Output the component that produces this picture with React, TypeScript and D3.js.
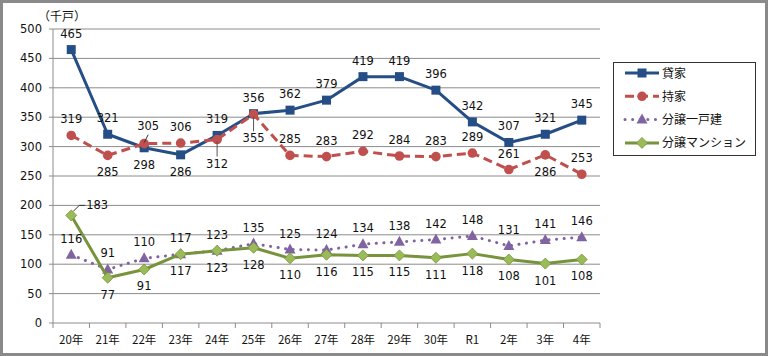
import React from "react";
import * as d3 from "d3";

const categories = ["20年","21年","22年","23年","24年","25年","26年","27年","28年","29年","30年","R1","2年","3年","4年"];
const seriesNames = ["貸家","持家","分譲一戸建","分譲マンション"];
const rental = [465,321,298,286,319,356,362,379,419,419,396,342,307,321,345];
const owned = [319,285,305,306,312,355,285,283,292,284,283,289,261,286,253];
const detached = [116,91,110,117,123,135,125,124,134,138,142,148,131,141,146];
const condo = [183,77,91,117,123,128,110,116,115,115,111,118,108,101,108];
const yTicks = [0,50,100,150,200,250,300,350,400,450,500];

// label placement: a = above, b = below, r = right (with leader), al = above w/ leader, bl = below w/ leader
const rentalPos = ["a","a","b","b","a","a","a","a","a","a","a","a","a","a","a"];
const ownedPos = ["a","b","al","a","bl","bl","a","a","a","a","a","a","a","b","a"];
const detachedPos = ["a","a","a","a","a","a","a","a","a","a","a","a","a","a","a"];
const condoPos = ["r","b","b","b","b","b","b","b","b","b","b","b","b","b","b"];

const W = 768, H = 356;
const left = 53, right = 600, top = 29, bottom = 323;
const numFont = "'DejaVu Sans', Verdana, sans-serif";
const jpFont = "'Noto Sans CJK JP', 'DejaVu Sans', sans-serif";

const x = d3.scaleBand<string>().domain(categories).range([left, right]);
const y = d3.scaleLinear().domain([0, 500]).range([bottom, top]);
const cx = (c: string) => (x(c) as number) + x.bandwidth() / 2;

type S = { name: string; values: number[]; pos: string[]; color: string; fill: string; dash?: string; cap?: string; marker: string };
const series: S[] = [
  { name: seriesNames[0], values: rental, pos: rentalPos, color: "#254E86", fill: "#254E86", marker: "square" },
  { name: seriesNames[1], values: owned, pos: ownedPos, color: "#C0504D", fill: "#C0504D", dash: "9,5", marker: "circle" },
  { name: seriesNames[2], values: detached, pos: detachedPos, color: "#8064A2", fill: "#8064A2", dash: "0.1,7.5", cap: "round", marker: "triangle" },
  { name: seriesNames[3], values: condo, pos: condoPos, color: "#77933C", fill: "#9BBB59", marker: "diamond" },
];

function Marker({ kind, px, py, fill, stroke }: { kind: string; px: number; py: number; fill: string; stroke: string }) {
  if (kind === "square") return <rect x={px - 4.5} y={py - 4.5} width={9} height={9} fill={fill} />;
  if (kind === "circle") return <circle cx={px} cy={py} r={4.8} fill={fill} />;
  if (kind === "triangle") return <path d={`M${px},${py - 6}L${px + 5.5},${py + 4}L${px - 5.5},${py + 4}Z`} fill={fill} />;
  return <path d={`M${px},${py - 5.5}L${px + 5.5},${py}L${px},${py + 5.5}L${px - 5.5},${py}Z`} fill={fill} stroke={stroke} strokeWidth={0.8} />;
}

export default function App() {
  const line = d3.line<number>().x((_, i) => cx(categories[i])).y((v) => y(v));
  return (
    <svg width={W} height={H} style={{ display: "block", position: "absolute", left: 0, top: 0 }}>
      <rect x={0} y={0} width={W} height={H} fill="#fff" />
      <rect x={1.5} y={1.5} width={W - 3} height={H - 3} fill="none" stroke="#8A8A8A" stroke-width={3} strokeWidth={3} />
      {/* grid */}
      {yTicks.filter((t) => t > 0).map((t) => (
        <line key={t} x1={left} x2={right} y1={y(t)} y2={y(t)} stroke="#8C8C8C" strokeWidth={1} />
      ))}
      {/* axes */}
      <line x1={left} x2={left} y1={top} y2={bottom} stroke="#8C8C8C" />
      <line x1={left} x2={right} y1={bottom} y2={bottom} stroke="#8C8C8C" />
      {yTicks.map((t) => (
        <g key={t}>
          <line x1={left - 4} x2={left} y1={y(t)} y2={y(t)} stroke="#8C8C8C" />
          <text x={left - 11} y={y(t) + 4} textAnchor="end" fontFamily={numFont} fontSize={11.5} fill="#111">{t}</text>
        </g>
      ))}
      {categories.map((c, i) => (
        <line key={"t" + i} x1={x(c) as number} x2={x(c) as number} y1={bottom} y2={bottom + 5} stroke="#8C8C8C" />
      ))}
      <line x1={right} x2={right} y1={bottom} y2={bottom + 5} stroke="#8C8C8C" />
      {categories.map((c) => (
        <text key={c} x={cx(c)} y={bottom + 21} textAnchor="middle" fontFamily={jpFont} fontSize={11.5} fill="#111">{c}</text>
      ))}
      <text x={38} y={21} fontFamily={jpFont} fontSize={12} fill="#111">（千戸）</text>
      {/* series */}
      {series.map((s) => (
        <g key={s.name}>
          <path d={line(s.values) as string} fill="none" stroke={s.color} strokeWidth={3} strokeDasharray={s.dash} strokeLinecap={(s.cap as any) || "butt"} strokeLinejoin="round" />
          {s.values.map((v, i) => (
            <Marker key={i} kind={s.marker} px={cx(categories[i])} py={y(v)} fill={s.fill} stroke={s.color} />
          ))}
        </g>
      ))}
      {/* labels */}
      {series.map((s) => (
        <g key={"l" + s.name}>
          {s.values.map((v, i) => {
            const px = cx(categories[i]);
            const py = y(v);
            const p = s.pos[i];
            if (p === "r") {
              return (
                <g key={i}>
                  <path d={`M${px + 2},${py - 4}L${px + 8},${py - 10}L${px + 14},${py - 10}`} fill="none" stroke="#333" strokeWidth={1} />
                  <text x={px + 15} y={py - 6} fontFamily={numFont} fontSize={11.5} fill="#111">{v}</text>
                </g>
              );
            }
            if (p === "al") {
              return (
                <g key={i}>
                  <line x1={px} x2={px + 4} y1={py - 1} y2={py - 9} stroke="#333" strokeWidth={1} />
                  <text x={px + 4} y={py - 14} textAnchor="middle" fontFamily={numFont} fontSize={11.5} fill="#111">{v}</text>
                </g>
              );
            }
            if (p === "bl") {
              return (
                <g key={i}>
                  <line x1={px} x2={px} y1={py + 2} y2={py + 17} stroke="#555" strokeWidth={1} />
                  <text x={px} y={py + 28} textAnchor="middle" fontFamily={numFont} fontSize={11.5} fill="#111">{v}</text>
                </g>
              );
            }
            const ly = p === "a" ? py - 12 : py + 21;
            return <text key={i} x={px} y={ly} textAnchor="middle" fontFamily={numFont} fontSize={11.5} fill="#111">{v}</text>;
          })}
        </g>
      ))}
      {/* legend */}
      <rect x={613.5} y={62.5} width={142} height={93} fill="#fff" stroke="#333" strokeWidth={1} />
      {series.map((s, i) => {
        const ly = 73 + i * 23.3;
        return (
          <g key={"lg" + i}>
            <line x1={625} x2={659} y1={ly} y2={ly} stroke={s.color} strokeWidth={3} strokeDasharray={s.dash} strokeLinecap={(s.cap as any) || "butt"} />
            <Marker kind={s.marker} px={642} py={ly} fill={s.fill} stroke={s.color} />
            <text x={662} y={ly + 4.5} fontFamily={jpFont} fontSize={12} fill="#111">{s.name}</text>
          </g>
        );
      })}
    </svg>
  );
}
